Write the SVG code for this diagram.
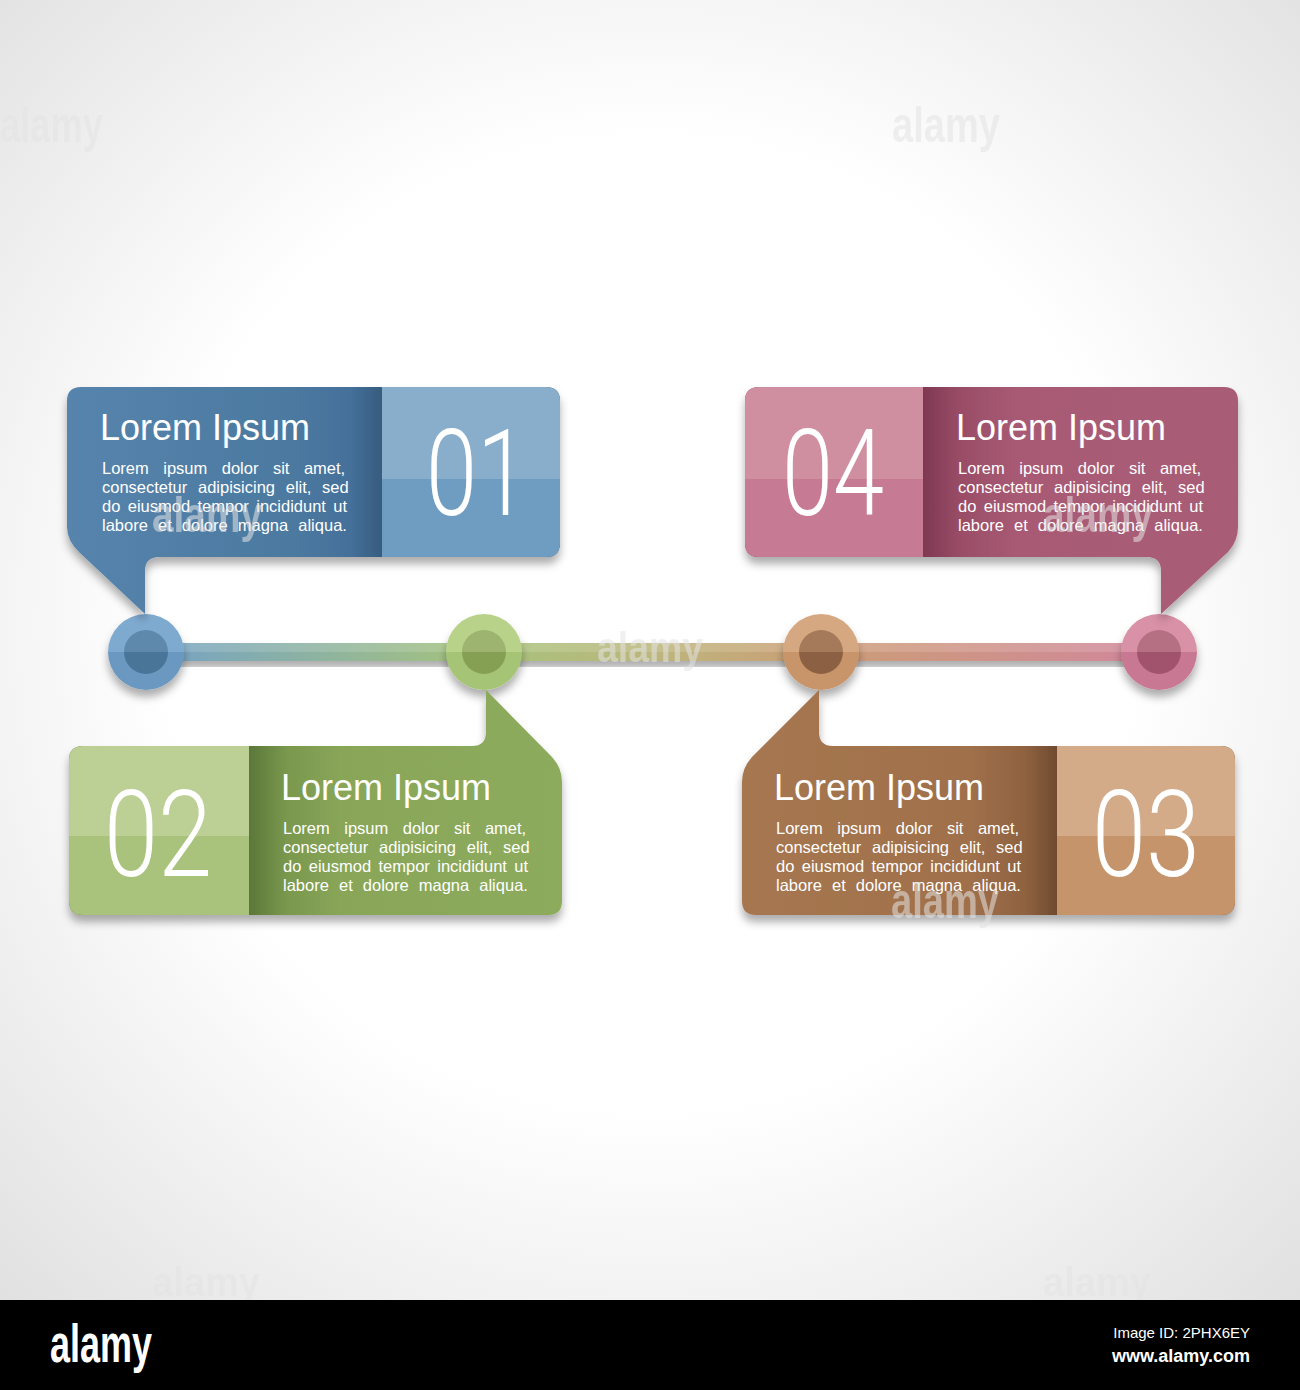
<svg xmlns="http://www.w3.org/2000/svg" width="1300" height="1390" viewBox="0 0 1300 1390">
<defs>
<style>
.h{font-family:"Liberation Sans",Arial,sans-serif;font-size:36px;fill:#fff}
.b{font-family:"Liberation Sans",Arial,sans-serif;font-size:16.5px;fill:#fff}
.l1{word-spacing:9.9px}
.l2{word-spacing:6.1px}
.l3{word-spacing:2.8px}
.l4{word-spacing:5.5px}
.n{font-family:Roboto,"Open Sans",sans-serif;font-weight:300;font-size:120px;fill:#fff}
.wm{font-family:"Liberation Sans",Arial,sans-serif;font-weight:bold;fill:#e4e4e4;opacity:0.55}
.ft{font-family:"Liberation Sans",Arial,sans-serif;fill:#fff}
</style>
<radialGradient id="bg" cx="50%" cy="48%" r="75%">
<stop offset="0.5" stop-color="#ffffff"/>
<stop offset="1" stop-color="#dedede"/>
</radialGradient>
<filter id="sh" x="-10%" y="-20%" width="120%" height="150%">
<feDropShadow dx="0" dy="7" stdDeviation="4" flood-color="#000" flood-opacity="0.32"/>
</filter>
<linearGradient id="g1" gradientUnits="userSpaceOnUse" x1="67" y1="0" x2="382" y2="0">
<stop offset="0" stop-color="#5684ac"/><stop offset="0.72" stop-color="#4c79a0"/><stop offset="0.9" stop-color="#44709a"/><stop offset="1" stop-color="#375c7e"/>
</linearGradient>
<linearGradient id="l1" x1="0" y1="0" x2="0" y2="1">
<stop offset="0.54" stop-color="#89aecb"/><stop offset="0.54" stop-color="#6f9cc1"/>
</linearGradient>
<linearGradient id="g4" gradientUnits="userSpaceOnUse" x1="923" y1="0" x2="1238" y2="0">
<stop offset="0" stop-color="#7f3852"/><stop offset="0.12" stop-color="#9a4d67"/><stop offset="0.3" stop-color="#a85a74"/><stop offset="1" stop-color="#a95c75"/>
</linearGradient>
<linearGradient id="l4" x1="0" y1="0" x2="0" y2="1">
<stop offset="0.54" stop-color="#d08fa1"/><stop offset="0.54" stop-color="#c77a93"/>
</linearGradient>
<linearGradient id="g2" gradientUnits="userSpaceOnUse" x1="249" y1="0" x2="562" y2="0">
<stop offset="0" stop-color="#5c773a"/><stop offset="0.12" stop-color="#7a984d"/><stop offset="0.3" stop-color="#89a659"/><stop offset="1" stop-color="#8dab5c"/>
</linearGradient>
<linearGradient id="l2" x1="0" y1="0" x2="0" y2="1">
<stop offset="0.53" stop-color="#bccf95"/><stop offset="0.53" stop-color="#a9c37d"/>
</linearGradient>
<linearGradient id="g3" gradientUnits="userSpaceOnUse" x1="742" y1="0" x2="1057" y2="0">
<stop offset="0" stop-color="#a67750"/><stop offset="0.72" stop-color="#a0704b"/><stop offset="0.9" stop-color="#8f6240"/><stop offset="1" stop-color="#6f4a2f"/>
</linearGradient>
<linearGradient id="l3" x1="0" y1="0" x2="0" y2="1">
<stop offset="0.53" stop-color="#d3ab88"/><stop offset="0.53" stop-color="#c6946a"/>
</linearGradient>
<linearGradient id="line" gradientUnits="userSpaceOnUse" x1="146" y1="0" x2="1159" y2="0">
<stop offset="0" stop-color="#74a2c6"/><stop offset="0.33" stop-color="#a6c37c"/><stop offset="0.5" stop-color="#bcb67c"/><stop offset="0.67" stop-color="#cc9d77"/><stop offset="1" stop-color="#d1879c"/>
</linearGradient>
<linearGradient id="c1o" x1="0" y1="0" x2="0" y2="1"><stop offset="0.5" stop-color="#7faad0"/><stop offset="0.5" stop-color="#6b98c0"/></linearGradient>
<linearGradient id="c1i" x1="0" y1="0" x2="0" y2="1"><stop offset="0.5" stop-color="#5f88ad"/><stop offset="0.5" stop-color="#4a7499"/></linearGradient>
<linearGradient id="c2o" x1="0" y1="0" x2="0" y2="1"><stop offset="0.5" stop-color="#b8d28a"/><stop offset="0.5" stop-color="#a6c476"/></linearGradient>
<linearGradient id="c2i" x1="0" y1="0" x2="0" y2="1"><stop offset="0.5" stop-color="#9cb46f"/><stop offset="0.5" stop-color="#86a052"/></linearGradient>
<linearGradient id="c3o" x1="0" y1="0" x2="0" y2="1"><stop offset="0.5" stop-color="#d6a881"/><stop offset="0.5" stop-color="#c8946a"/></linearGradient>
<linearGradient id="c3i" x1="0" y1="0" x2="0" y2="1"><stop offset="0.5" stop-color="#a47a5a"/><stop offset="0.5" stop-color="#8c6142"/></linearGradient>
<linearGradient id="c4o" x1="0" y1="0" x2="0" y2="1"><stop offset="0.5" stop-color="#d891a7"/><stop offset="0.5" stop-color="#c97893"/></linearGradient>
<linearGradient id="c4i" x1="0" y1="0" x2="0" y2="1"><stop offset="0.5" stop-color="#b57084"/><stop offset="0.5" stop-color="#a1536d"/></linearGradient>
</defs>

<rect x="0" y="0" width="1300" height="1300" fill="url(#bg)"/>

<g id="connectors">
<rect x="146" y="643" width="1013" height="18" fill="url(#line)" filter="url(#sh)"/>
<rect x="146" y="643" width="1013" height="9" fill="#fff" opacity="0.14"/>
</g>

<g id="node-circle-1" filter="url(#sh)">
<circle cx="146" cy="652" r="38" fill="url(#c1o)"/>
<circle cx="146" cy="652" r="22" fill="url(#c1i)"/>
</g>
<g id="node-circle-2" filter="url(#sh)">
<circle cx="484" cy="652" r="38" fill="url(#c2o)"/>
<circle cx="484" cy="652" r="22" fill="url(#c2i)"/>
</g>
<g id="node-circle-3" filter="url(#sh)">
<circle cx="821" cy="652" r="38" fill="url(#c3o)"/>
<circle cx="821" cy="652" r="22" fill="url(#c3i)"/>
</g>
<g id="node-circle-4" filter="url(#sh)">
<circle cx="1159" cy="652" r="38" fill="url(#c4o)"/>
<circle cx="1159" cy="652" r="22" fill="url(#c4i)"/>
</g>

<g id="node-01">
<g filter="url(#sh)">
<path d="M81,387 H546 Q560,387 560,401 V543 Q560,557 546,557 H159 Q145,557 145,571 V614 L80,553 Q67,541 67,527 V401 Q67,387 81,387 Z" fill="url(#g1)"/>
</g>
<path d="M382,387 H546 Q560,387 560,401 V543 Q560,557 546,557 H382 Z" fill="url(#l1)"/>
<text class="h" x="100" y="440">Lorem Ipsum</text>
<text class="b l1" x="102" y="474">Lorem ipsum dolor sit amet,</text>
<text class="b l2" x="102" y="493">consectetur adipisicing elit, sed</text>
<text class="b l3" x="102" y="512">do eiusmod tempor incididunt ut</text>
<text class="b l4" x="102" y="531">labore et dolore magna aliqua.</text>
<text class="n" x="426" y="515" textLength="102" lengthAdjust="spacingAndGlyphs">01</text>
</g>

<g id="node-04">
<g filter="url(#sh)">
<path d="M759,387 H1224 Q1238,387 1238,401 V527 Q1238,541 1228,552 L1161,614 V571 Q1161,557 1147,557 H759 Q745,557 745,543 V401 Q745,387 759,387 Z" fill="url(#g4)"/>
</g>
<path d="M923,387 H759 Q745,387 745,401 V543 Q745,557 759,557 H923 Z" fill="url(#l4)"/>
<text class="h" x="956" y="440">Lorem Ipsum</text>
<text class="b l1" x="958" y="474">Lorem ipsum dolor sit amet,</text>
<text class="b l2" x="958" y="493">consectetur adipisicing elit, sed</text>
<text class="b l3" x="958" y="512">do eiusmod tempor incididunt ut</text>
<text class="b l4" x="958" y="531">labore et dolore magna aliqua.</text>
<text class="n" x="782" y="515" textLength="102" lengthAdjust="spacingAndGlyphs">04</text>
</g>

<g id="node-02">
<g filter="url(#sh)">
<path d="M83,746 H472 Q486,746 486,732 V690 L552,757 Q562,768 562,782 V901 Q562,915 548,915 H83 Q69,915 69,901 V760 Q69,746 83,746 Z" fill="url(#g2)"/>
</g>
<path d="M249,746 H83 Q69,746 69,760 V901 Q69,915 83,915 H249 Z" fill="url(#l2)"/>
<text class="h" x="281" y="800">Lorem Ipsum</text>
<text class="b l1" x="283" y="834">Lorem ipsum dolor sit amet,</text>
<text class="b l2" x="283" y="853">consectetur adipisicing elit, sed</text>
<text class="b l3" x="283" y="872">do eiusmod tempor incididunt ut</text>
<text class="b l4" x="283" y="891">labore et dolore magna aliqua.</text>
<text class="n" x="104" y="876" textLength="108" lengthAdjust="spacingAndGlyphs">02</text>
</g>

<g id="node-03">
<g filter="url(#sh)">
<path d="M833,746 H1221 Q1235,746 1235,760 V901 Q1235,915 1221,915 H756 Q742,915 742,901 V782 Q742,768 752,757 L819,690 V732 Q819,746 833,746 Z" fill="url(#g3)"/>
</g>
<path d="M1057,746 H1221 Q1235,746 1235,760 V901 Q1235,915 1221,915 H1057 Z" fill="url(#l3)"/>
<text class="h" x="774" y="800">Lorem Ipsum</text>
<text class="b l1" x="776" y="834">Lorem ipsum dolor sit amet,</text>
<text class="b l2" x="776" y="853">consectetur adipisicing elit, sed</text>
<text class="b l3" x="776" y="872">do eiusmod tempor incididunt ut</text>
<text class="b l4" x="776" y="891">labore et dolore magna aliqua.</text>
<text class="n" x="1092" y="876" textLength="108" lengthAdjust="spacingAndGlyphs">03</text>
</g>

<g id="watermarks">
<text class="wm" x="0" y="142" font-size="50" textLength="103" lengthAdjust="spacingAndGlyphs">alamy</text>
<text class="wm" x="892" y="142" font-size="50" textLength="108" lengthAdjust="spacingAndGlyphs">alamy</text>
<text class="wm" x="152" y="532" font-size="50" textLength="110" lengthAdjust="spacingAndGlyphs">alamy</text>
<text class="wm" x="1043" y="532" font-size="50" textLength="110" lengthAdjust="spacingAndGlyphs">alamy</text>
<text class="wm" x="597" y="662" font-size="42" textLength="106" lengthAdjust="spacingAndGlyphs">alamy</text>
<text class="wm" x="891" y="918" font-size="50" textLength="108" lengthAdjust="spacingAndGlyphs">alamy</text>
<text class="wm" x="152" y="1296" font-size="40" textLength="108" lengthAdjust="spacingAndGlyphs">alamy</text>
<text class="wm" x="1043" y="1296" font-size="40" textLength="108" lengthAdjust="spacingAndGlyphs">alamy</text>
</g>

<g id="footer">
<rect x="0" y="1300" width="1300" height="90" fill="#000"/>
<text class="ft" x="50" y="1362" font-size="54" font-weight="bold" textLength="102" lengthAdjust="spacingAndGlyphs">alamy</text>
<text class="ft" x="1250" y="1338" font-size="15" text-anchor="end">Image ID: 2PHX6EY</text>
<text class="ft" x="1250" y="1362" font-size="18" font-weight="bold" text-anchor="end">www.alamy.com</text>
</g>
</svg>
